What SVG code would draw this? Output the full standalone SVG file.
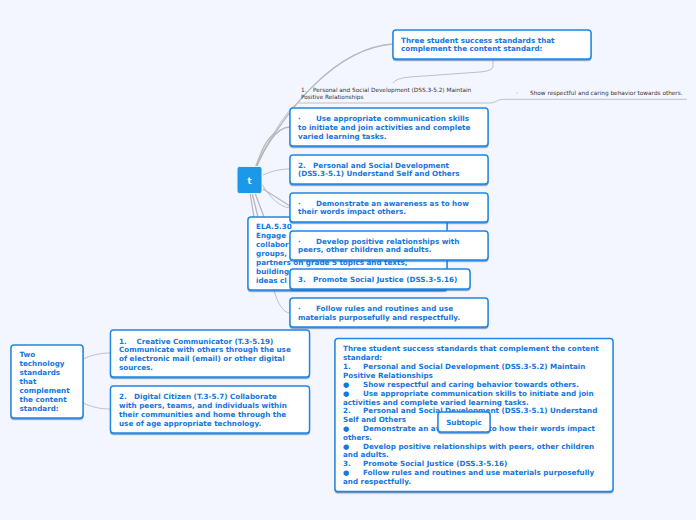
<svg xmlns="http://www.w3.org/2000/svg" width="696" height="520" viewBox="0 0 696 520">
<style>
.n{fill:#fff;stroke:#1b87e6;stroke-width:1.4;filter:url(#s)}
.t{font-family:"DejaVu Sans",Verdana,sans-serif;font-size:7.2px;font-weight:700;fill:#1476de}
.p{font-family:"DejaVu Sans",Verdana,sans-serif;font-size:5.78px;fill:#333}
.c{fill:none;stroke:#c0c0c4;stroke-width:1}
.h{stroke-width:1.3;stroke:#b8b8bc}
</style>
<defs><filter id="s" x="-10%" y="-10%" width="120%" height="125%"><feDropShadow dx="0" dy="1.2" stdDeviation="0.7" flood-color="#2a5f9e" flood-opacity="0.65"/></filter></defs>
<rect width="696" height="520" fill="#f3f6ff"/>
<g id="connectors">
<path class="c h" d="M256 166C285 110 335 48 393 44"/>
<path class="c" d="M257 166C268 142 282 116 297 103"/>
<path class="c h" d="M257 166C264 148 276 127 290 127"/>
<path class="c h" d="M256 166C261 152 266 139 276 132"/>
<path class="c" d="M263 175C272 171 280 169 290 169"/>
<path class="c h" d="M263 189L290 206"/>
<path class="c" d="M262 184C270 198 280 207 290 208"/>
<path class="c h" d="M252 193L258 217M255 193L264 217M250 193L254 217"/>
<path class="c" d="M274 290C277 302 283 313 290 313"/>
<path class="c" d="M297 103H490C496 103 497 99 505 99.300H687"/>
<path class="c" d="M493 60V66Q493 71 480 72L410 77Q396 78 393 83"/>
<path class="c" d="M83 359C92 355 100 353 110 353"/>
<path class="c" d="M83 403C92 407 100 409 110 409"/>
</g>
<g id="n-three"><rect class="n" x="393" y="30" width="198" height="29" rx="3"/><text class="t"><tspan x="401" y="43">Three student success standards that</tspan><tspan x="401" y="51">complement the content standard:</tspan></text></g>
<g id="n-maintain"><text class="p"><tspan x="301" y="92">1.</tspan><tspan x="313" y="92">Personal and Social Development (DSS.3-5.2) Maintain</tspan><tspan x="301" y="99">Positive Relationships</tspan></text></g>
<g id="n-show"><text class="p"><tspan x="516" y="95">·</tspan><tspan x="530" y="95">Show respectful and caring behavior towards others.</tspan></text></g>
<g id="n-ela"><rect class="n" x="248" y="217" width="199" height="73" rx="3"/><text class="t"><tspan x="256" y="229">ELA.5.30</tspan><tspan x="256" y="238">Engage</tspan><tspan x="256" y="247">collabor</tspan><tspan x="256" y="256">groups,</tspan><tspan x="256" y="265">partners on grade 5 topics and texts,</tspan><tspan x="256" y="274">building</tspan><tspan x="256" y="283">ideas cl</tspan></text></g>
<g id="n-use"><rect class="n" x="290" y="108" width="198" height="38" rx="3"/><text class="t"><tspan x="298" y="121">·</tspan><tspan x="316" y="121">Use appropriate communication skills</tspan><tspan x="298" y="130">to initiate and join activities and complete</tspan><tspan x="298" y="139">varied learning tasks.</tspan></text></g>
<g id="n-personal"><rect class="n" x="290" y="155" width="198" height="29" rx="3"/><text class="t"><tspan x="298" y="168">2.</tspan><tspan x="313" y="168">Personal and Social Development</tspan><tspan x="298" y="176">(DSS.3-5.1) Understand Self and Others</tspan></text></g>
<g id="n-demo"><rect class="n" x="290" y="193" width="198" height="29" rx="3"/><text class="t"><tspan x="298" y="206">·</tspan><tspan x="316" y="206">Demonstrate an awareness as to how</tspan><tspan x="298" y="214">their words impact others.</tspan></text></g>
<g id="n-develop"><rect class="n" x="290" y="231" width="198" height="29" rx="3"/><text class="t"><tspan x="298" y="244">·</tspan><tspan x="316" y="244">Develop positive relationships with</tspan><tspan x="298" y="252">peers, other children and adults.</tspan></text></g>
<g id="n-promote"><rect class="n" x="290" y="269" width="180" height="20" rx="3"/><text class="t"><tspan x="298" y="282">3.</tspan><tspan x="313" y="282">Promote Social Justice (DSS.3-5.16)</tspan></text></g>
<g id="n-follow"><rect class="n" x="290" y="298" width="198" height="29" rx="3"/><text class="t"><tspan x="298" y="311">·</tspan><tspan x="316" y="311">Follow rules and routines and use</tspan><tspan x="298" y="320">materials purposefully and respectfully.</tspan></text></g>
<g id="n-root"><rect x="237" y="166.500" width="25" height="27" rx="2.500" fill="#1b98e8" stroke="#e9f3ff" stroke-width="1"/><text x="249.500" y="184" text-anchor="middle" font-family="'DejaVu Sans',sans-serif" font-size="8.500" font-weight="700" fill="#fff">t</text></g>
<g id="n-two"><rect class="n" x="11" y="345" width="72" height="73" rx="3"/><text class="t"><tspan x="19.500" y="357">Two</tspan><tspan x="19.500" y="366">technology</tspan><tspan x="19.500" y="375">standards</tspan><tspan x="19.500" y="384">that</tspan><tspan x="19.500" y="393">complement</tspan><tspan x="19.500" y="402">the content</tspan><tspan x="19.500" y="411">standard:</tspan></text></g>
<g id="n-creative"><rect class="n" x="110.500" y="330" width="199" height="47" rx="3"/><text class="t"><tspan x="119" y="344">1.</tspan><tspan x="136.500" y="344">Creative Communicator (T.3-5.19)</tspan><tspan x="119" y="352">Communicate with others through the use</tspan><tspan x="119" y="361">of electronic mail (email) or other digital</tspan><tspan x="119" y="370">sources.</tspan></text></g>
<g id="n-digital"><rect class="n" x="110.500" y="386" width="199" height="47" rx="3"/><text class="t"><tspan x="119" y="399">2.</tspan><tspan x="134" y="399">Digital Citizen (T.3-5.7) Collaborate</tspan><tspan x="119" y="408">with peers, teams, and individuals within</tspan><tspan x="119" y="417">their communities and home through the</tspan><tspan x="119" y="426">use of age appropriate technology.</tspan></text></g>
<g id="n-full"><rect class="n" x="335" y="338.500" width="278" height="153" rx="3"/><text class="t"><tspan x="343" y="351">Three student success standards that complement the content</tspan><tspan x="343" y="360">standard:</tspan><tspan x="343" y="369">1.</tspan><tspan x="363" y="369">Personal and Social Development (DSS.3-5.2) Maintain</tspan><tspan x="343" y="378">Positive Relationships</tspan><tspan x="343" y="387">●</tspan><tspan x="363" y="387">Show respectful and caring behavior towards others.</tspan><tspan x="343" y="396">●</tspan><tspan x="363" y="396">Use appropriate communication skills to initiate and join</tspan><tspan x="343" y="405">activities and complete varied learning tasks.</tspan><tspan x="343" y="413">2.</tspan><tspan x="363" y="413">Personal and Social Development (DSS.3-5.1) Understand</tspan><tspan x="343" y="422">Self and Others</tspan><tspan x="343" y="431">●</tspan><tspan x="363" y="431">Demonstrate an awareness as to how their words impact</tspan><tspan x="343" y="440">others.</tspan><tspan x="343" y="449">●</tspan><tspan x="363" y="449">Develop positive relationships with peers, other children</tspan><tspan x="343" y="457">and adults.</tspan><tspan x="343" y="466">3.</tspan><tspan x="363" y="466">Promote Social Justice (DSS.3-5.16)</tspan><tspan x="343" y="475">●</tspan><tspan x="363" y="475">Follow rules and routines and use materials purposefully</tspan><tspan x="343" y="484">and respectfully.</tspan></text></g>
<g id="n-subtopic"><rect class="n" x="438" y="412" width="52" height="20" rx="3"/><text class="t" x="464" y="425" text-anchor="middle">Subtopic</text></g>
</svg>
